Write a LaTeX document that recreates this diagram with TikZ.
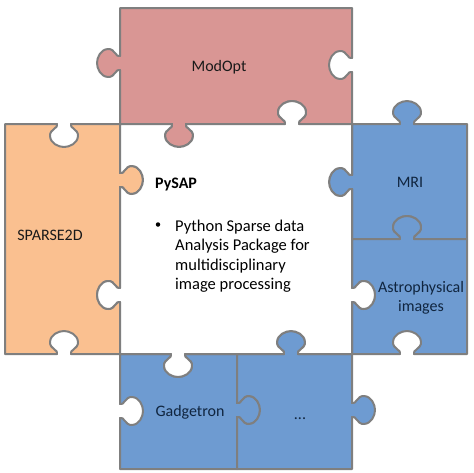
\documentclass[tikz,border=0pt]{standalone}
\usepackage{fontspec}
\setmainfont{Carlito}
\definecolor{outl}{HTML}{7F7F7F}
\definecolor{rosef}{HTML}{D99694}
\definecolor{orangef}{HTML}{FAC090}
\definecolor{bluef}{HTML}{6E9BD1}
\definecolor{navyt}{HTML}{10253F}
\definecolor{darkt}{HTML}{1A1A1A}
% knob/hole along an edge: centre (#1,#2), travel dir (#3,#4), bulge dir (#5,#6)
\newcommand\kn[6]{%
-- ({#1-7*(#3)},{#2-7*(#4)})
.. controls ({#1-5*(#3)+4*(#5)},{#2-5*(#4)+4*(#6)}) and ({#1-14.5*(#3)+5*(#5)},{#2-14.5*(#4)+5*(#6)}) .. ({#1-14*(#3)+12*(#5)},{#2-14*(#4)+12*(#6)})
.. controls ({#1-13.5*(#3)+19.5*(#5)},{#2-13.5*(#4)+19.5*(#6)}) and ({#1-5.5*(#3)+23*(#5)},{#2-5.5*(#4)+23*(#6)}) .. ({#1+23*(#5)},{#2+23*(#6)})
.. controls ({#1+5.5*(#3)+23*(#5)},{#2+5.5*(#4)+23*(#6)}) and ({#1+13.5*(#3)+19.5*(#5)},{#2+13.5*(#4)+19.5*(#6)}) .. ({#1+14*(#3)+12*(#5)},{#2+14*(#4)+12*(#6)})
.. controls ({#1+14.5*(#3)+5*(#5)},{#2+14.5*(#4)+5*(#6)}) and ({#1+5*(#3)+4*(#5)},{#2+5*(#4)+4*(#6)}) .. ({#1+7*(#3)},{#2+7*(#4)})
}
\tikzset{
  piece/.style={draw=outl, line width=2pt, line join=round},
  lbl/.style={inner sep=0pt, anchor=base, font=\fontsize{16}{19}\selectfont},
  bodytxt/.style={inner sep=0pt, anchor=base west, font=\fontsize{16.5}{19}\selectfont, text=black}
}
\begin{document}
\begin{tikzpicture}[x=1pt,y=-1pt]
\useasboundingbox (0,0) rectangle (474,472);
% ModOpt
\path[piece, fill=rosef] (120,8) -- (352,8)
  \kn{352}{65}{0}{1}{-1}{0}
  -- (352,124)
  \kn{292}{124}{-1}{0}{0}{-1}
  \kn{179}{124}{-1}{0}{0}{1}
  -- (120,124)
  \kn{120}{63}{0}{-1}{-1}{0}
  -- cycle;
% SPARSE2D
\path[piece, fill=orangef] (5,124)
  \kn{64}{124}{1}{0}{0}{1}
  -- (120,124)
  \kn{120}{180}{0}{1}{1}{0}
  \kn{120}{295}{0}{1}{-1}{0}
  -- (120,354)
  \kn{64}{354}{-1}{0}{0}{-1}
  -- (5,354) -- cycle;
% MRI
\path[piece, fill=bluef] (352,124)
  \kn{407}{124}{1}{0}{0}{-1}
  -- (467,124) -- (467,239)
  \kn{407}{239}{-1}{0}{0}{-1}
  -- (352,239)
  \kn{352}{182}{0}{-1}{-1}{0}
  -- cycle;
% Astrophysical images
\path[piece, fill=bluef] (352,239)
  \kn{407}{239}{1}{0}{0}{-1}
  -- (467,239) -- (467,354)
  \kn{407}{354}{-1}{0}{0}{-1}
  -- (352,354)
  \kn{352}{295}{0}{-1}{1}{0}
  -- cycle;
% Gadgetron
\path[piece, fill=bluef] (120,354)
  \kn{178}{354}{1}{0}{0}{1}
  -- (237,354)
  \kn{237}{410}{0}{1}{1}{0}
  -- (237,469) -- (120,469)
  \kn{120}{411}{0}{-1}{1}{0}
  -- cycle;
% dots piece
\path[piece, fill=bluef] (237,354)
  \kn{291}{354}{1}{0}{0}{-1}
  -- (352,354)
  \kn{352}{410}{0}{1}{1}{0}
  -- (352,469) -- (237,469)
  \kn{237}{410}{0}{-1}{1}{0}
  -- cycle;
% PySAP (white)
\path[piece, fill=white] (120,124)
  \kn{179}{124}{1}{0}{0}{1}
  \kn{292}{124}{1}{0}{0}{-1}
  -- (352,124)
  \kn{352}{182}{0}{1}{-1}{0}
  \kn{352}{295}{0}{1}{1}{0}
  -- (352,354)
  \kn{291}{354}{-1}{0}{0}{-1}
  \kn{178}{354}{-1}{0}{0}{1}
  -- (120,354)
  \kn{120}{295}{0}{-1}{-1}{0}
  \kn{120}{180}{0}{-1}{1}{0}
  -- cycle;
% labels
\node[lbl, text=darkt] (modopt) at (219,71) {ModOpt};
\node[lbl, text=darkt] (sparse) at (50,240) {SPARSE2D};
\node[lbl, text=navyt] (mri) at (410,187) {MRI};
\node[lbl, text=navyt] (astro1) at (421,292) {Astrophysical};
\node[lbl, text=navyt] (astro2) at (421,311) {images};
\node[lbl, text=navyt] (gadget) at (190,416) {Gadgetron};
\node[lbl, text=navyt] (dots) at (300,419) {...};
\node[bodytxt, font=\fontsize{16}{19}\selectfont\bfseries] (pysap) at (155,188) {PySAP};
\node[inner sep=0pt, fill=black, circle, minimum size=4.5pt] (bullet) at (158,224.5) {};
\node[bodytxt] (l1) at (175,231) {Python Sparse data};
\node[bodytxt] (l2) at (175,250.5) {Analysis Package for};
\node[bodytxt] (l3) at (175,270) {multidisciplinary};
\node[bodytxt] (l4) at (175,289) {image processing};
\end{tikzpicture}
\end{document}
